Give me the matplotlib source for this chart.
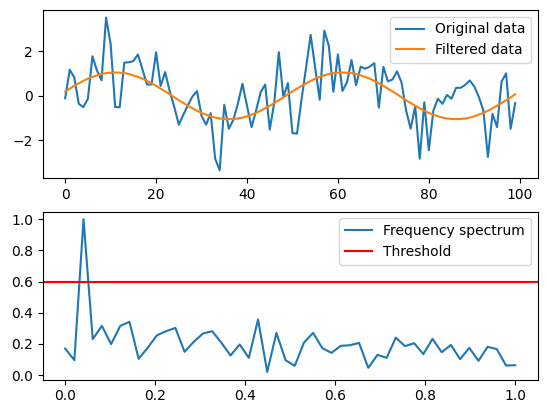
import numpy as np
import matplotlib
matplotlib.use("Agg")
import matplotlib.pyplot as plt

# noisy signal (100 samples)
original = [-0.11, 1.17, 0.83, -0.36, -0.51, -0.13, 1.78, 1.13, 0.70, 3.52,
            2.33, -0.51, -0.51, 1.49, 1.51, 1.56, 1.86, 1.19, 0.51, 0.51,
            1.96, 0.44, 1.07, 0.20, -0.50, -1.30, -0.85, -0.42, -0.03, 0.21,
            -0.90, -1.30, -0.78, -2.83, -3.35, -0.40, -1.48, -1.08, -0.35, 0.54,
            -0.45, -1.41, -0.66, 0.16, 0.51, -1.52, -0.30, 1.96, -0.05, 0.57,
            -1.68, -1.70, -0.15, 1.28, 2.74, 1.25, -0.18, 2.93, 2.25, 0.18,
            1.86, 0.22, 0.61, 1.61, 0.48, 1.31, 1.22, 1.31, 1.47, -0.53,
            1.30, 0.65, 0.73, 1.10, 0.60, -0.66, -1.48, -0.48, -2.83, -0.29,
            -2.45, -0.66, -0.13, -0.36, 0.04, -0.13, 0.36, 0.36, 0.49, 0.69,
            0.42, -0.05, -0.66, -2.75, -0.81, -1.41, 0.64, 1.01, -1.48, -0.33]

# smooth curve
filtered = [0.20, 0.32, 0.45, 0.56, 0.67, 0.77, 0.85, 0.92, 0.98, 1.02,
            1.04, 1.05, 1.04, 1.02, 0.98, 0.92, 0.85, 0.77, 0.67, 0.56,
            0.45, 0.32, 0.20, 0.07, -0.07, -0.20, -0.32, -0.45, -0.56, -0.67,
            -0.77, -0.85, -0.92, -0.98, -1.02, -1.04, -1.05, -1.04, -1.02, -0.98,
            -0.92, -0.85, -0.77, -0.67, -0.56, -0.45, -0.32, -0.20, -0.07, 0.07,
            0.20, 0.32, 0.45, 0.56, 0.67, 0.77, 0.85, 0.92, 0.98, 1.02,
            1.04, 1.05, 1.04, 1.02, 0.98, 0.92, 0.85, 0.77, 0.67, 0.56,
            0.45, 0.32, 0.20, 0.07, -0.07, -0.20, -0.32, -0.45, -0.56, -0.67,
            -0.77, -0.85, -0.92, -0.98, -1.02, -1.04, -1.05, -1.04, -1.02, -0.98,
            -0.92, -0.85, -0.77, -0.67, -0.56, -0.45, -0.32, -0.20, -0.07, 0.07]

# spectrum (50 bins from 0 to 1)
spectrum = [0.171, 0.096, 1.0, 0.231, 0.316, 0.199, 0.316, 0.342, 0.105, 0.177,
            0.256, 0.282, 0.303, 0.150, 0.214, 0.267, 0.282, 0.209, 0.126, 0.197,
            0.111, 0.357, 0.021, 0.271, 0.096, 0.060, 0.209, 0.271, 0.173, 0.143,
            0.188, 0.192, 0.207, 0.047, 0.130, 0.111, 0.241, 0.186, 0.205, 0.135,
            0.233, 0.147, 0.194, 0.103, 0.175, 0.092, 0.182, 0.167, 0.062, 0.064]
threshold = 0.6

samples = np.arange(len(original))
freqs = np.linspace(0, 1, len(spectrum))

fig, (ax1, ax2) = plt.subplots(2, 1, figsize=(5.47, 4.13), dpi=100)
plt.subplots_adjust(left=0.078, right=0.983, top=0.976, bottom=0.081, hspace=0.2)

ax1.plot(samples, original, label="Original data")
ax1.plot(samples, filtered, label="Filtered data")
ax1.legend(loc="upper right")

ax2.plot(freqs, spectrum, label="Frequency spectrum")
ax2.axhline(threshold, color="r", label="Threshold")
ax2.legend(loc="upper right")

plt.savefig("out.png")
